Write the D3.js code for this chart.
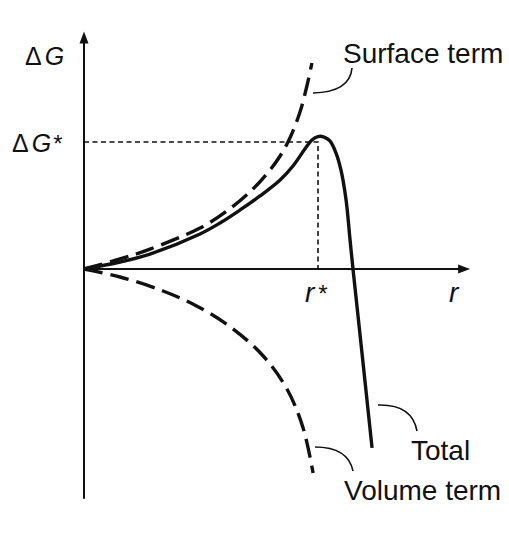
<!DOCTYPE html>
<html>
<head>
<meta charset="utf-8">
<script src="https://cdn.jsdelivr.net/npm/d3@7"></script>
<style>
  html, body { margin: 0; padding: 0; background: #fff; }
  svg { display: block; }
  text { font-family: "Liberation Sans", Arial, Helvetica, sans-serif; fill: #111; }
</style>
</head>
<body>
<svg id="chart"></svg>
<script>
// values, r in units of r*, dG in units of dG*
const rStar = 1;
const dgStar = 1;

const surfaceR = [0, 0.154, 0.282, 0.496, 0.611, 0.722, 0.795, 0.838, 0.880, 0.923, 0.953, 0.974];
const surfaceG = [0, 0.079, 0.157, 0.323, 0.457, 0.630, 0.780, 0.890, 1.031, 1.236, 1.445, 1.622];

const volumeR = [0, 0.154, 0.338, 0.483, 0.624, 0.765, 0.868, 0.936, 0.979];
const volumeG = [0, -0.063, -0.173, -0.293, -0.454, -0.683, -0.947, -1.250, -1.606];

const totalR = [0, 0.154, 0.282, 0.496, 0.581, 0.667, 0.752, 0.838, 0.893, 0.944, 0.974, 1.0,
                1.026, 1.051, 1.077, 1.098, 1.120, 1.137, 1.150, 1.188, 1.231];
const totalG = [0, 0.055, 0.118, 0.276, 0.362, 0.465, 0.575, 0.701, 0.811, 0.945, 1.016, 1.043,
                1.039, 1.008, 0.913, 0.780, 0.543, 0.228, -0.008, -0.661, -1.409];

// axis extents
const rMax = 1.65;
const gTop = 1.87;
const gBottom = -1.81;

const W = 509, H = 542;
const svg = d3.select('#chart').attr('width', W).attr('height', H);

const x = d3.scaleLinear().domain([0, 1]).range([84, 318]);
const y = d3.scaleLinear().domain([0, 1]).range([269, 142]);

const ink = '#111';

// axes
svg.append('line')
   .attr('x1', x(0)).attr('x2', x(0))
   .attr('y1', y(gBottom)).attr('y2', y(gTop) + 8)
   .attr('stroke', ink).attr('stroke-width', 2);
svg.append('line')
   .attr('x1', x(0)).attr('x2', x(rMax) - 8)
   .attr('y1', y(0)).attr('y2', y(0))
   .attr('stroke', ink).attr('stroke-width', 2);

// arrow heads
const ax = x(0), ay = y(gTop);
svg.append('path')
   .attr('d', `M${ax},${ay} L${ax - 4.5},${ay + 12} L${ax + 4.5},${ay + 12} Z`)
   .attr('fill', ink);
const bx = x(rMax), by = y(0);
svg.append('path')
   .attr('d', `M${bx},${by} L${bx - 12},${by - 4.5} L${bx - 12},${by + 4.5} Z`)
   .attr('fill', ink);

// dG* guides
svg.append('path')
   .attr('d', `M${x(0)},${y(dgStar)} H${x(rStar)} V${y(0)}`)
   .attr('fill', 'none')
   .attr('stroke', ink).attr('stroke-width', 1.6)
   .attr('stroke-dasharray', '5 3.5');

const line = d3.line()
               .x(d => x(d[0]))
               .y(d => y(d[1]))
               .curve(d3.curveCatmullRom.alpha(0.5));

svg.append('path')
   .datum(d3.zip(surfaceR, surfaceG))
   .attr('d', line)
   .attr('fill', 'none')
   .attr('stroke', ink).attr('stroke-width', 3.4)
   .attr('stroke-dasharray', '19 8');

svg.append('path')
   .datum(d3.zip(volumeR, volumeG))
   .attr('d', line)
   .attr('fill', 'none')
   .attr('stroke', ink).attr('stroke-width', 3.4)
   .attr('stroke-dasharray', '19 8');

svg.append('path')
   .datum(d3.zip(totalR, totalG))
   .attr('d', line)
   .attr('fill', 'none')
   .attr('stroke', ink).attr('stroke-width', 3.4);

// leader lines
const leaders = [
  'M313,93 Q350,92 352,68',
  'M378,405 Q412,404 417,431',
  'M315,447 Q348,447 353,471'
];
svg.selectAll('path.leader')
   .data(leaders)
   .enter()
   .append('path')
     .attr('class', 'leader')
     .attr('d', d => d)
     .attr('fill', 'none')
     .attr('stroke', ink)
     .attr('stroke-width', 1.6);

// labels
svg.append('text').attr('x', 343).attr('y', 63).attr('font-size', 28).text('Surface term');
svg.append('text').attr('x', 411).attr('y', 460).attr('font-size', 28).text('Total');
svg.append('text').attr('x', 344).attr('y', 500).attr('font-size', 28).text('Volume term');

const dg = svg.append('text').attr('x', 25).attr('y', 65).attr('font-size', 25);
dg.append('tspan').text('Δ');
dg.append('tspan').attr('dx', 3).attr('font-style', 'italic').text('G');

const dgs = svg.append('text').attr('x', 12).attr('y', 152).attr('font-size', 25);
dgs.append('tspan').text('Δ');
dgs.append('tspan').attr('dx', 3).attr('font-style', 'italic').text('G');
dgs.append('tspan').attr('dx', 2).attr('font-size', 24).text('*');

const rs = svg.append('text').attr('x', x(rStar) - 13).attr('y', 302).attr('font-size', 28);
rs.append('tspan').attr('font-style', 'italic').text('r');
rs.append('tspan').attr('dx', 4).attr('font-size', 24).text('*');

svg.append('text').attr('x', 449).attr('y', 302).attr('font-size', 28)
   .attr('font-style', 'italic').text('r');
</script>
</body>
</html>
